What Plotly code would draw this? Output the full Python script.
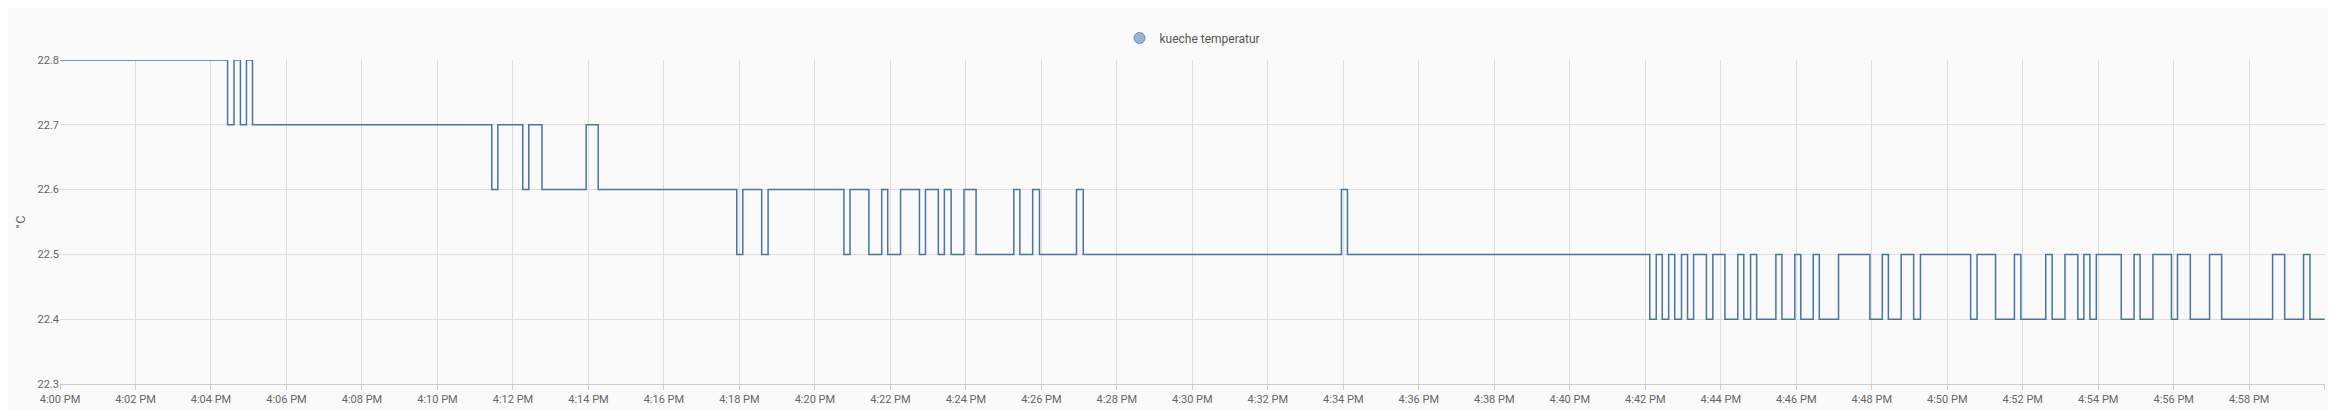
import plotly.graph_objects as go
import pandas as pd

base = "2024-01-01 16:00:00"
# minutes after 4:00 PM at which each value begins
change_minutes = [0, 4.44, 4.61, 4.78, 4.94, 5.1, 11.44, 11.6, 12.26, 12.42, 12.77, 13.94, 14.26,
    17.93, 18.09, 18.59, 18.76, 20.77, 20.93, 21.43, 21.77, 21.93, 22.27, 22.77, 22.93, 23.27, 23.43,
    23.61, 23.95, 24.27, 25.27, 25.43, 25.77, 25.95, 26.93, 27.11, 33.95, 34.11,
    42.12, 42.29, 42.45, 42.62, 42.78, 42.96, 43.12, 43.28, 43.62, 43.79, 44.11, 44.45, 44.61, 44.79,
    44.95, 45.46, 45.62, 45.96, 46.12, 46.45, 46.61, 47.12, 47.95, 48.28, 48.44, 48.78, 49.11, 49.29,
    50.62, 50.79, 51.28, 51.78, 51.95, 52.61, 52.78, 53.12, 53.46, 53.62, 53.78, 53.95, 54.61, 54.95,
    55.11, 55.45, 55.94, 56.1, 56.44, 56.95, 57.27, 58.62, 58.94, 59.44, 59.61, 60]
temps = [22.8, 22.7, 22.8, 22.7, 22.8, 22.7, 22.6, 22.7, 22.6, 22.7, 22.6, 22.7, 22.6,
    22.5, 22.6, 22.5, 22.6, 22.5, 22.6, 22.5, 22.6, 22.5, 22.6, 22.5, 22.6, 22.5, 22.6,
    22.5, 22.6, 22.5, 22.6, 22.5, 22.6, 22.5, 22.6, 22.5, 22.6, 22.5,
    22.4, 22.5, 22.4, 22.5, 22.4, 22.5, 22.4, 22.5, 22.4, 22.5, 22.4, 22.5, 22.4, 22.5,
    22.4, 22.5, 22.4, 22.5, 22.4, 22.5, 22.4, 22.5, 22.4, 22.5, 22.4, 22.5, 22.4, 22.5,
    22.4, 22.5, 22.4, 22.5, 22.4, 22.5, 22.4, 22.5, 22.4, 22.5, 22.4, 22.5, 22.4, 22.5,
    22.4, 22.5, 22.4, 22.5, 22.4, 22.5, 22.4, 22.5, 22.4, 22.5, 22.4, 22.4]
series_name = "kueche temperatur"

times = pd.Timestamp(base) + pd.to_timedelta(change_minutes, unit="m")
tick_vals = pd.date_range(times[0], times[-1], freq="2min")

fig = go.Figure()
fig.add_trace(go.Scatter(x=times, y=temps, mode="lines", line_shape="hv",
                         line=dict(color="#4a74a2", width=1.5), showlegend=False))
fig.add_trace(go.Scatter(x=[None], y=[None], mode="markers", name=series_name,
                         marker=dict(size=11, color="#9bb3cf", line=dict(color="#6a8db5", width=1))))

fig.update_layout(
    width=2336, height=411, paper_bgcolor="#fafafa", plot_bgcolor="#fafafa",
    margin=dict(l=52, r=19, t=52, b=35, autoexpand=False),
    font=dict(family="Roboto", size=11, color="#666"),
    legend=dict(orientation="h", x=0.5, xanchor="center", yref="container", y=0.927,
                yanchor="middle", font=dict(size=12, color="#555"), bgcolor="rgba(0,0,0,0)"),
    xaxis=dict(range=[times[0], times[-1] + pd.Timedelta(milliseconds=500)],
               tickvals=tick_vals, tickformat="%-I:%M %p",
               showgrid=True, gridcolor="#dedede", showline=True, linecolor="#ccc",
               ticks="outside", ticklen=5, tickcolor="#ccc", zeroline=False),
    yaxis=dict(range=[22.3, 22.8], dtick=0.1, tickformat=".1f", showgrid=True,
               gridcolor="#dedede", zeroline=False, title=dict(text="°C", standoff=8)),
)
fig.write_html("out.html")
